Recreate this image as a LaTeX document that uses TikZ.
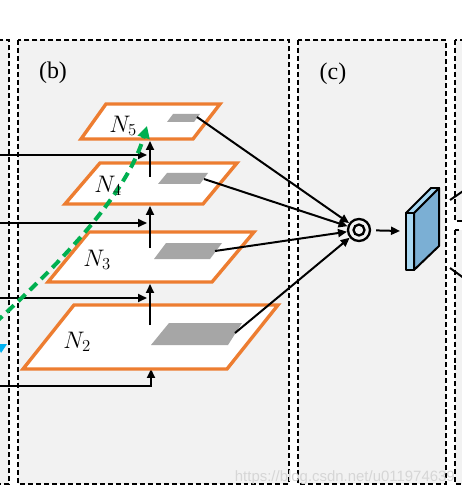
\RequirePackage{fix-cm}
\documentclass[tikz,border=0pt]{standalone}
\usepackage{fontspec}
\setmainfont{Liberation Serif}
\newfontfamily\wmfont{Liberation Sans}
\usetikzlibrary{arrows.meta}
\definecolor{panelgray}{HTML}{F2F2F2}
\definecolor{planeorange}{HTML}{ED7D31}
\definecolor{featgray}{HTML}{A6A6A6}
\definecolor{greenarrow}{HTML}{00B050}
\definecolor{cyanarrow}{HTML}{00B0F0}
\definecolor{cubefront}{HTML}{A9D8F2}
\definecolor{cubeside}{HTML}{7BAFD4}
\definecolor{wmgray}{HTML}{D6D6D6}
\begin{document}
\begin{tikzpicture}[x=1bp,y=-1bp,
  panel/.style={draw=black, fill=panelgray, line width=1.1pt, dash pattern=on 5pt off 3pt},
  plane/.style={draw=planeorange, fill=white, line width=3.4pt, line join=miter},
  feat/.style={fill=featgray},
  arr/.style={line width=2pt, -{Triangle[length=9pt,width=8pt]}},
  plainline/.style={line width=2pt},
  lbl/.style={font=\fontsize{24}{27}\selectfont, inner sep=0pt},
  nlbl/.style={font=\fontsize{24}{27}\selectfont, inner sep=0pt},
  greendash/.style={draw=greenarrow, line width=4pt, dash pattern=on 10pt off 6pt, -{Triangle[length=12pt,width=12pt]}},
  cube/.style={draw=black, line width=2pt, line join=round}]
\useasboundingbox (0,0) rectangle (462,495);
\begin{scope}
\clip (0,0) rectangle (462,495);
% panels
\draw[panel] (-30,40) rectangle (9,484);
\draw[panel] (18,40) rectangle (289,484);
\draw[panel] (298,40) rectangle (446,484);
\draw[panel] (455,40) rectangle (490,221);
\draw[panel] (455,230) rectangle (490,484);
% panel labels
\node[lbl] (lb) at (53,73) {(b)};
\node[lbl] (lc) at (333,74) {(c)};
% incoming lateral arrows
\coordinate (h5s) at (-5,155); \coordinate (h5e) at (147,155);
\coordinate (h4s) at (-5,223); \coordinate (h4e) at (147,223);
\coordinate (h3s) at (-5,298); \coordinate (h3e) at (147,298);
\coordinate (h2s) at (-5,386); \coordinate (h2c) at (151,386); \coordinate (h2e) at (151,369);
\draw[arr] (h5s) -- (h5e);
\draw[arr] (h4s) -- (h4e);
\draw[arr] (h3s) -- (h3e);
\draw[arr] (h2s) -- (h2c) -- (h2e);
% planes
\draw[plane] (74,305) -- (278,305) -- (227,369) -- (23,369) -- cycle;
\fill[feat] (169,323) -- (242,323) -- (228,345) -- (151,345) -- cycle;
\node[nlbl] (n2) at (77,342) {$N_2$};
\draw[plane] (89,232) -- (254,232) -- (212,282) -- (48,282) -- cycle;
\fill[feat] (166,243) -- (222,243) -- (210,259) -- (154,259) -- cycle;
\node[nlbl] (n3) at (97,260) {$N_3$};
\draw[plane] (100,163) -- (237,163) -- (203,204) -- (65,204) -- cycle;
\fill[feat] (167,173) -- (208,173) -- (200,184) -- (158,184) -- cycle;
% top-down vertical arrows
\coordinate (v2s) at (150,325); \coordinate (v2e) at (150,284);
\coordinate (v3s) at (150,248); \coordinate (v3e) at (150,206);
\coordinate (v4s) at (150,177); \coordinate (v4e) at (150,141);
\draw[arr] (v2s) -- (v2e);
\draw[arr] (v3s) -- (v3e);
\draw[plane] (106,104) -- (220,104) -- (193,139) -- (81,139) -- cycle;
\fill[feat] (173,114) -- (200,114) -- (194,122) -- (167,122) -- cycle;
\node[nlbl] (n5) at (123,126) {$N_5$};
\draw[arr] (v4s) -- (v4e);
% green path
\coordinate (gs) at (-5,323); \coordinate (ge) at (147,126);
\draw[greendash] (gs) .. controls (50,272) and (125,200) .. (ge);
\node[nlbl] (n4) at (108,186) {$N_4$};
% cyan fragment
\fill[cyanarrow] (-3,344) -- (7,344) -- (1,353) -- cycle;
% fusion operator
\node[draw, circle, line width=2.3pt, minimum size=22bp, inner sep=0pt] (op) at (359,230) {};
\node[draw, circle, line width=2.3pt, minimum size=11bp, inner sep=0pt] (opin) at (359,230) {};
\coordinate (f5) at (197,117);
\coordinate (f4) at (204,179);
\coordinate (f3) at (215,251);
\coordinate (f2) at (235,333);
\draw[arr] (f5) -- (op);
\draw[arr] (f4) -- (op);
\draw[arr] (f3) -- (op);
\draw[arr] (f2) -- (op);
% feature cuboid
\coordinate (cf1) at (406,213); \coordinate (cf2) at (414,213);
\coordinate (cf3) at (414,270); \coordinate (cf4) at (406,270);
\coordinate (cb1) at (431,188); \coordinate (cb2) at (439,188);
\coordinate (cb3) at (439,246);
\coordinate (cin) at (400,231);
\draw[arr, shorten <=5bp] (op) -- (cin);
\draw[cube, fill=cubeside] (cf2) -- (cb2) -- (cb3) -- (cf3) -- cycle;
\draw[cube, fill=cubefront] (cf1) -- (cb1) -- (cb2) -- (cf2) -- cycle;
\draw[cube, fill=cubefront] (cf1) -- (cf2) -- (cf3) -- (cf4) -- cycle;
% outgoing fragments
\coordinate (o1s) at (450,200); \coordinate (o1e) at (472,185);
\coordinate (o2s) at (450,268); \coordinate (o2e) at (472,284);
\draw[plainline] (o1s) -- (o1e);
\draw[plainline] (o2s) -- (o2e);
% watermark
\node[font=\wmfont\fontsize{15}{17}\selectfont, text=wmgray, anchor=base east, inner sep=0pt] (wm) at (455,481) {https://blog.csdn.net/u011974639};
\end{scope}
\end{tikzpicture}
\end{document}
